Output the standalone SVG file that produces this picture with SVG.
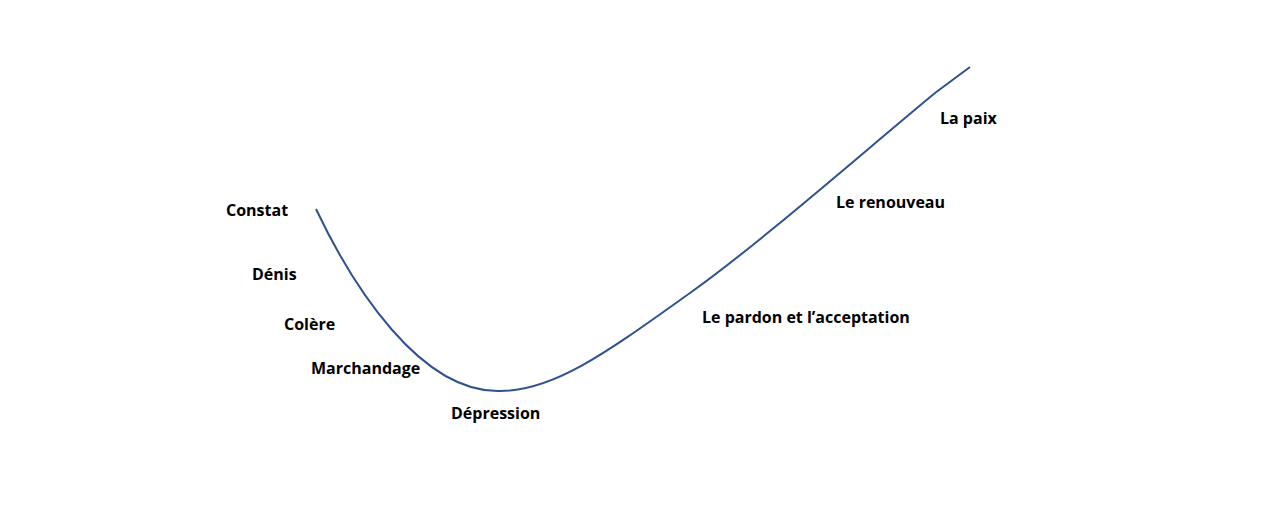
<svg xmlns="http://www.w3.org/2000/svg" width="1286" height="513" viewBox="0 0 1286 513">
<style>
.lbl{font-family:"Open Sans","Liberation Sans",sans-serif;font-weight:bold;font-size:16px;fill:#000}
.curve{fill:none;stroke:#2F528F;stroke-width:2}
</style>
<rect width="1286" height="513" fill="#fff"/>
<g id="connectors">
<path class="curve" d="M316,209 C352,285 420,393 500,391 C555,391 610,350 690,293 C760,243 860,155 935,93 L970,67"/>
</g>
<g id="constat"><text class="lbl" x="226" y="216">Constat</text></g>
<g id="denis"><text class="lbl" x="252" y="280">Dénis</text></g>
<g id="colere"><text class="lbl" x="284" y="330">Colère</text></g>
<g id="marchandage"><text class="lbl" x="311" y="374">Marchandage</text></g>
<g id="depression"><text class="lbl" x="451" y="419">Dépression</text></g>
<g id="pardon"><text class="lbl" x="702" y="323">Le pardon et l’acceptation</text></g>
<g id="renouveau"><text class="lbl" x="836" y="208">Le renouveau</text></g>
<g id="paix"><text class="lbl" x="940" y="124">La paix</text></g>
</svg>
